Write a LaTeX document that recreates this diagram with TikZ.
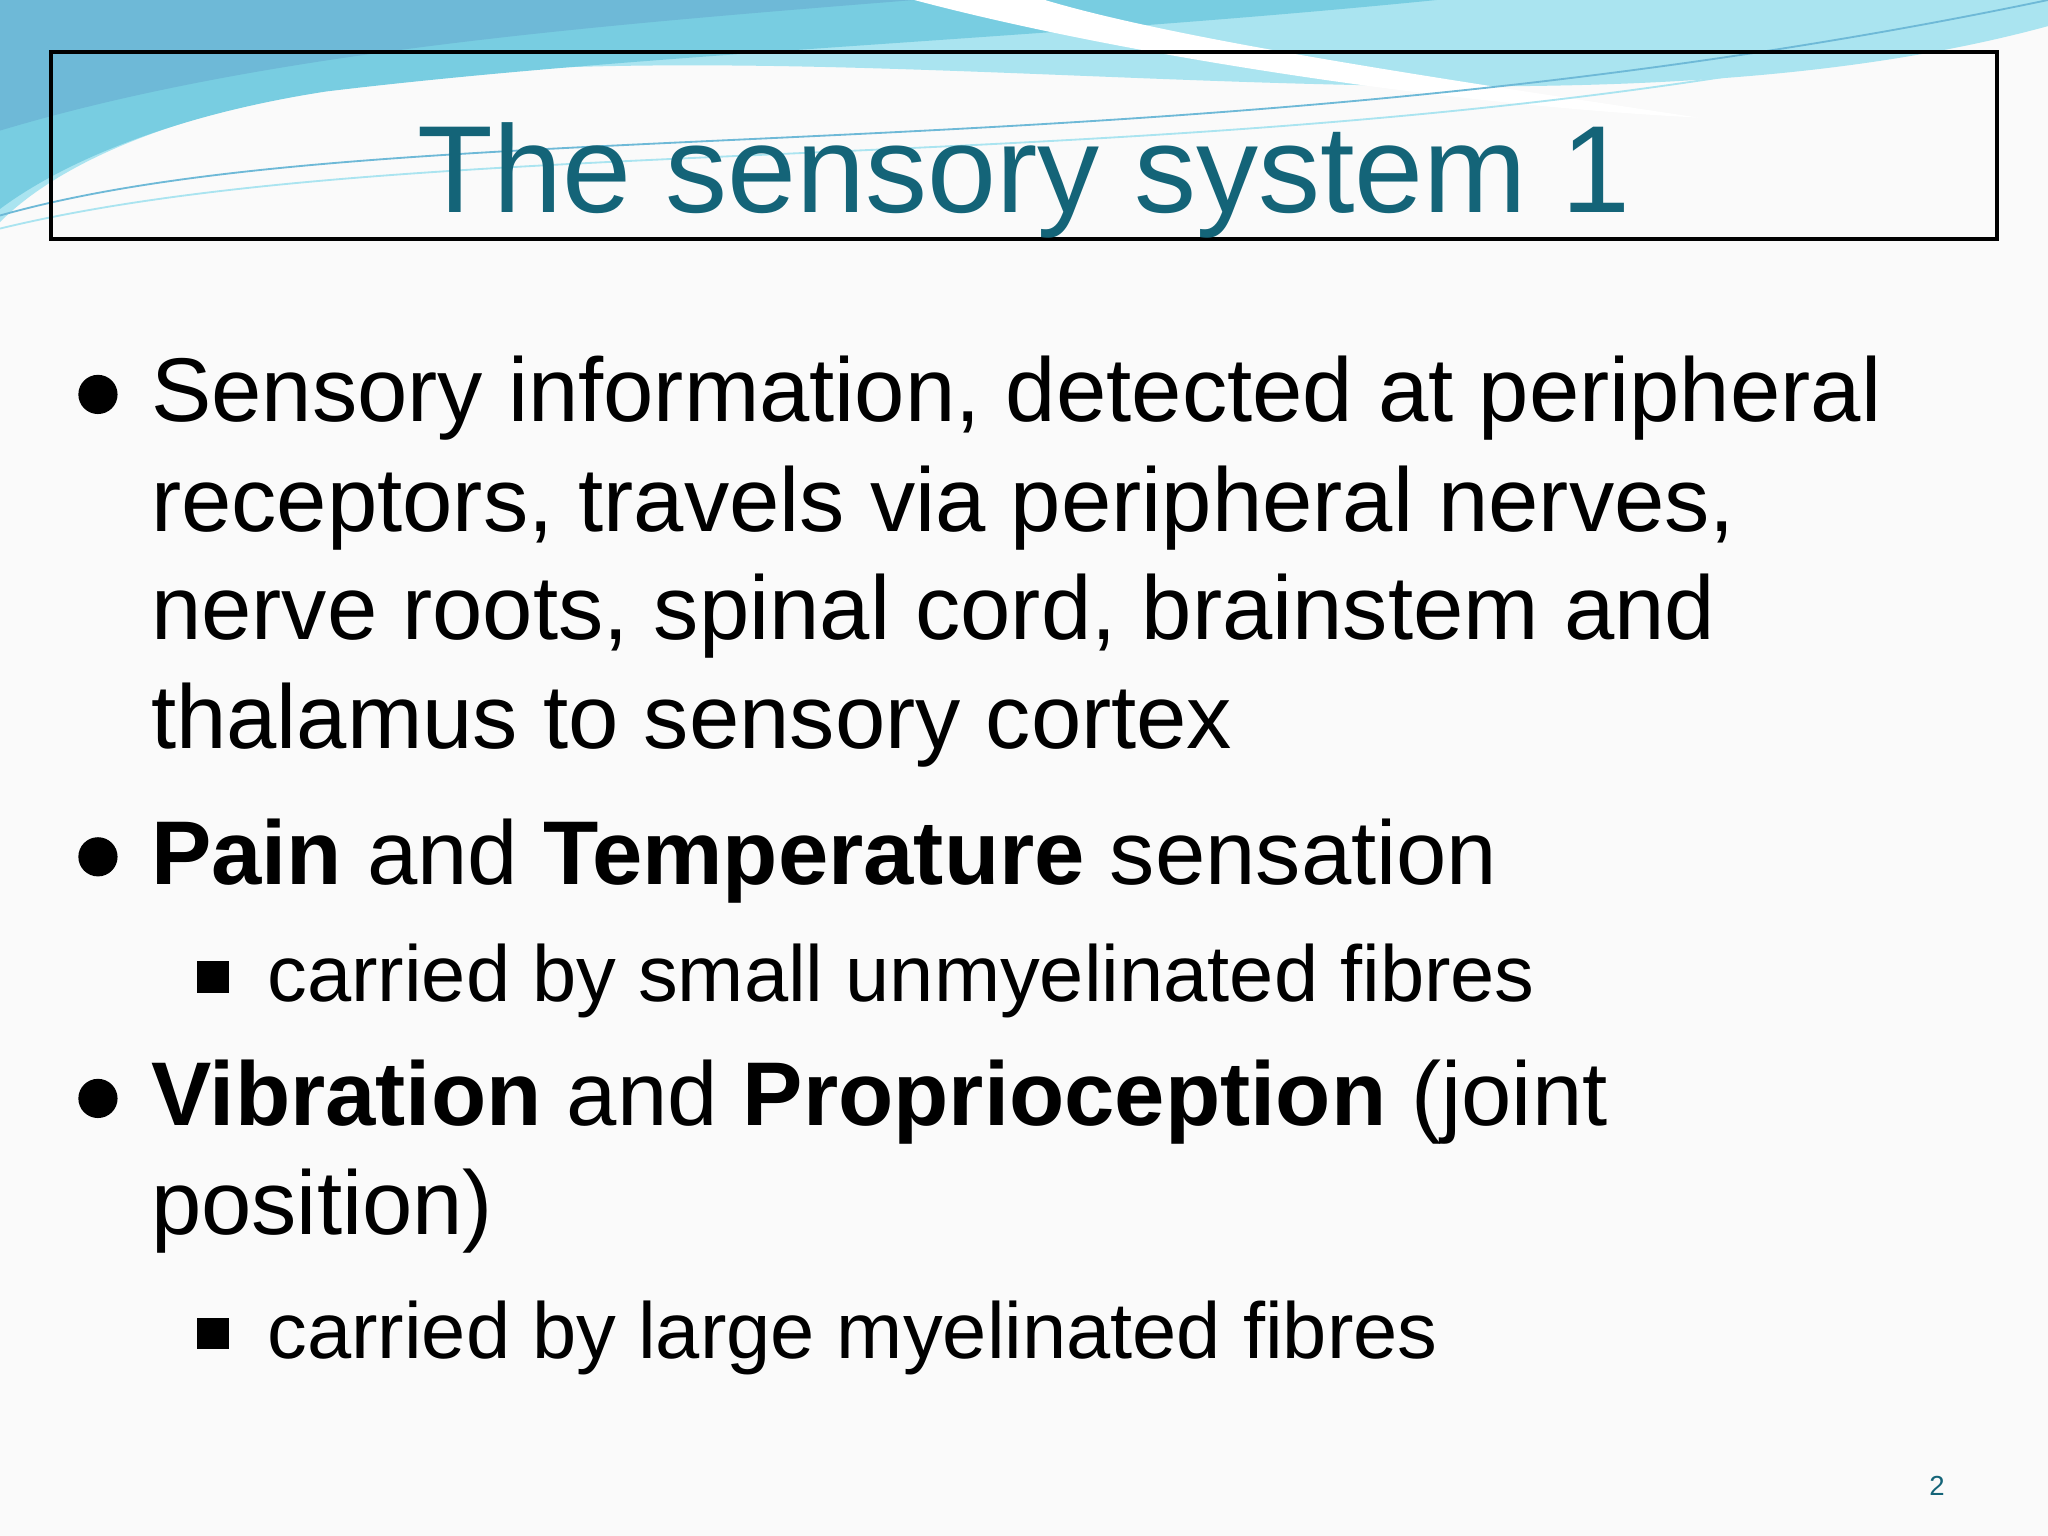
\documentclass[tikz,border=0pt]{standalone}
\usepackage{fontspec}
\setmainfont{Liberation Sans}
\begin{document}
\begin{tikzpicture}[x=0.01cm,y=-0.01cm,
  body/.style={anchor=base west,inner sep=0pt,font=\fontsize{19.7}{24}\selectfont},
  sub/.style={anchor=base west,inner sep=0pt,font=\fontsize{17.3}{20}\selectfont},
  dot/.style={circle,fill=black,inner sep=0pt,minimum size=0.3cm},
  sq/.style={rectangle,fill=black,inner sep=0pt,minimum size=0.24cm}]
\definecolor{ttl}{RGB}{20,100,120}
\definecolor{wa}{RGB}{120,205,225}
\definecolor{wb}{RGB}{170,228,240}
\definecolor{wc}{RGB}{110,185,215}
\useasboundingbox (0,0) rectangle (1568,1176);
\fill[white!96!gray] (0,0) rectangle (1568,1176);
% waves
\fill[wb] (0,0) -- (1568,0) -- (1568,20) .. controls (1200,120) and (700,20) .. (300,60) .. controls (150,80) and (50,120) .. (0,170) -- cycle;
\fill[wa] (0,0) -- (1100,0) .. controls (800,30) and (500,40) .. (250,70) .. controls (120,90) and (40,130) .. (0,160) -- cycle;
\fill[wc] (0,0) -- (700,0) .. controls (450,20) and (200,40) .. (0,100) -- cycle;
\fill[white] (700,0) .. controls (850,40) and (1100,80) .. (1300,90) .. controls (1100,60) and (900,30) .. (800,0) -- cycle;
\draw[wc,thin] (0,165) .. controls (300,80) and (900,140) .. (1568,0);
\draw[wb,thin] (0,175) .. controls (350,90) and (1000,150) .. (1568,10);
\draw[black,line width=0.8pt] (39,40) rectangle (1529,183);
\node[anchor=base,inner sep=0pt,text=ttl,font=\fontsize{27}{30}\selectfont] (title) at (784,163) {The sensory system 1};
\node[dot] (b1) at (75,302) {};
\node[body] (l1) at (115,323) {Sensory information, detected at peripheral};
\node[body] (l2) at (115,407) {receptors, travels via peripheral nerves,};
\node[body] (l3) at (115,490) {nerve roots, spinal cord, brainstem and};
\node[body] (l4) at (115,573) {thalamus to sensory cortex};
\node[dot] (b2) at (75,656) {};
\node[body] (p1) at (115,677) {\textbf{Pain} and \textbf{Temperature} sensation};
\node[sq] (s1) at (163,748) {};
\node[sub] (p2) at (204,767) {carried by small unmyelinated fibres};
\node[dot] (b3) at (75,841) {};
\node[body] (v1) at (115,862) {\textbf{Vibration} and \textbf{Proprioception} (joint};
\node[body] (v2) at (115,945) {position)};
\node[sq] (s2) at (163,1021) {};
\node[sub] (v3) at (204,1040) {carried by large myelinated fibres};
\node[anchor=base,inner sep=0pt,text=ttl,font=\fontsize{6}{7}\selectfont] (pg) at (1483,1145) {2};
\end{tikzpicture}
\end{document}
